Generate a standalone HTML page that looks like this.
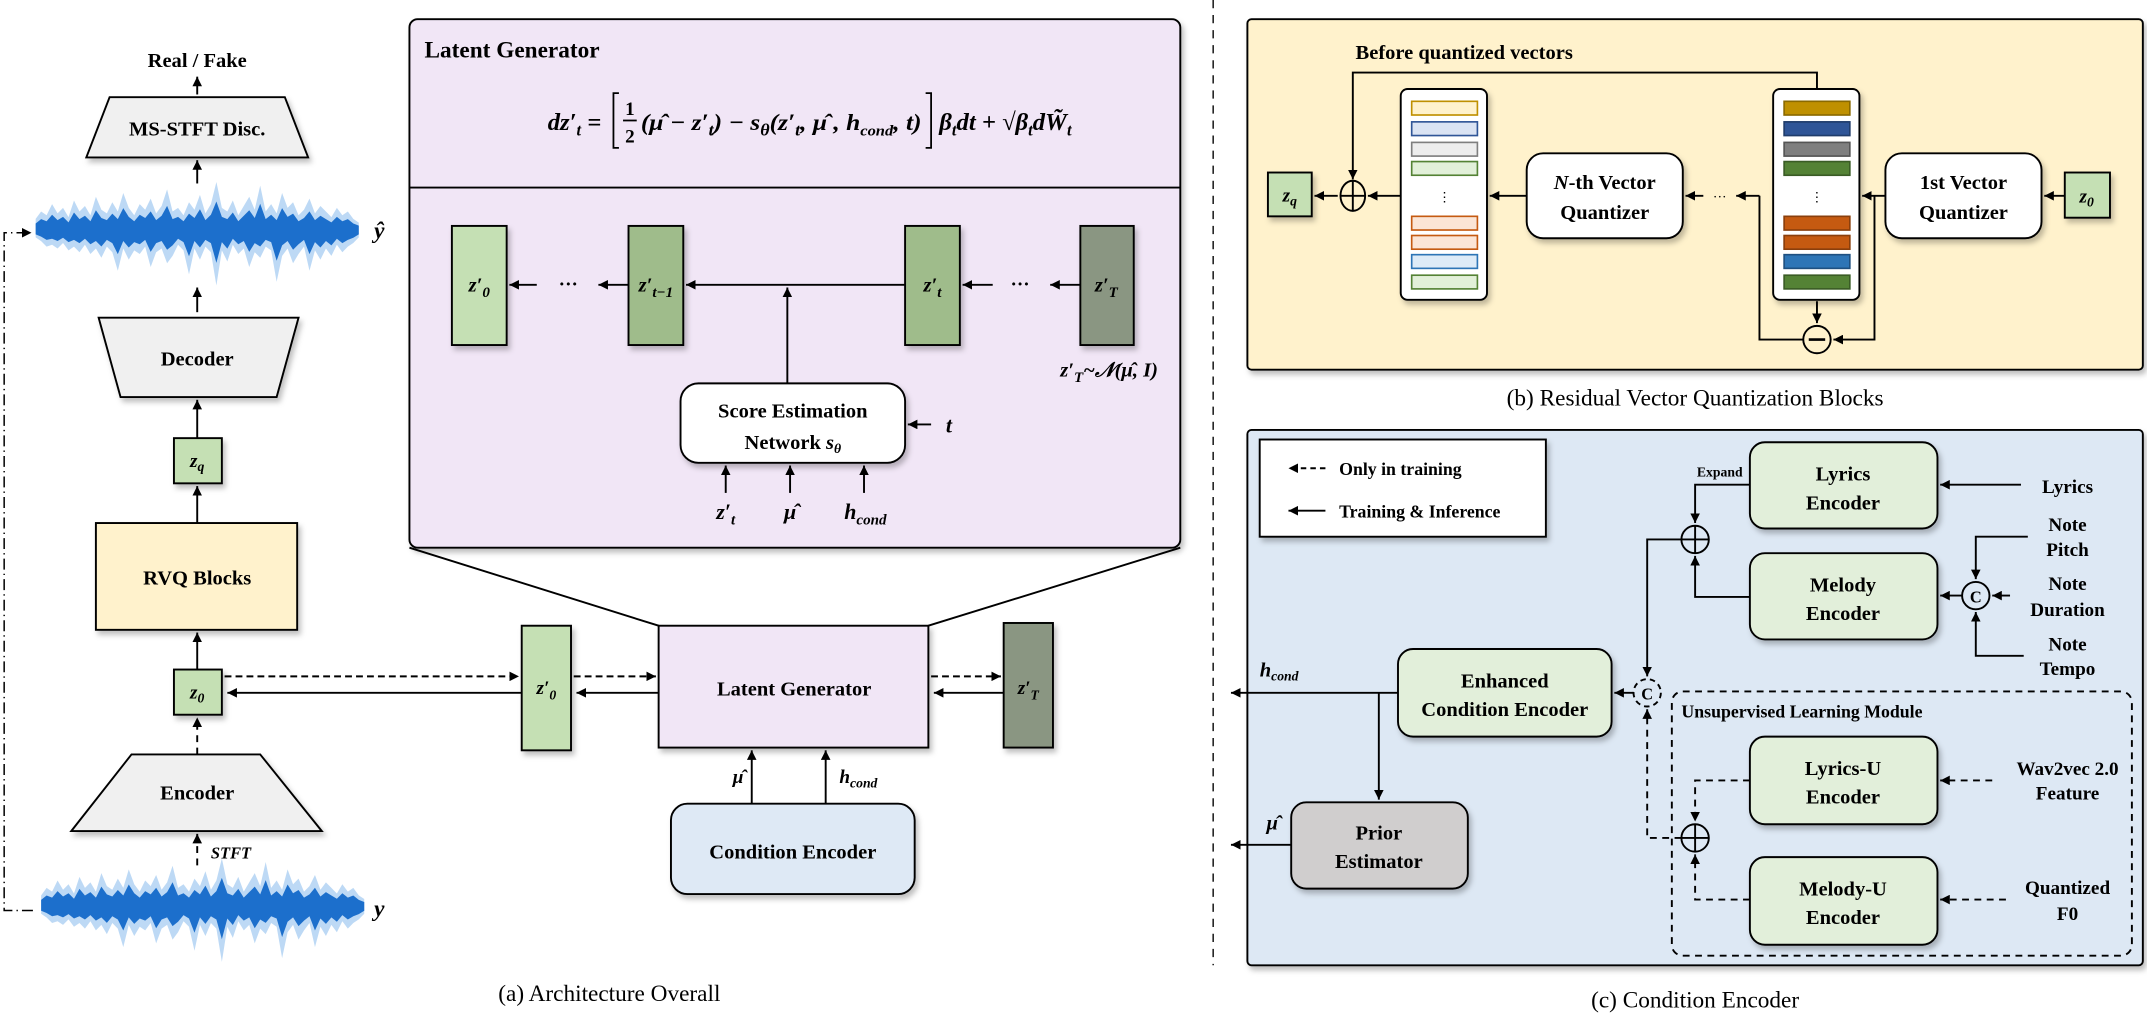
<!DOCTYPE html>
<html><head><meta charset="utf-8"><style>
html,body{margin:0;padding:0;background:#fff}
svg{display:block}
text{font-family:"Liberation Serif",serif;fill:#000}
.b{font-weight:bold}
.bi{font-weight:bold;font-style:italic}
</style></head><body>
<svg width="2147" height="1031" viewBox="0 0 1568 753" xmlns="http://www.w3.org/2000/svg">
<defs>
<marker id="a" viewBox="0 0 10 10" refX="10" refY="5" markerWidth="7" markerHeight="7" markerUnits="userSpaceOnUse" orient="auto"><path d="M0,0 L10,5 L0,10 z" fill="#000"/></marker>
<filter id="sh" x="-20%" y="-20%" width="150%" height="150%"><feDropShadow dx="2" dy="3" stdDeviation="2" flood-color="#000" flood-opacity="0.25"/></filter>
<symbol id="wave" viewBox="-2 -32 240 64" width="240" height="64" overflow="visible">
<g transform="scale(1,1.35)" opacity="0.4"><polygon fill="#5aa0e6" points="0,-6 4,-10 8,-8 12,-14 16,-9 20,-12 24,-7 28,-16 32,-10 36,-13 40,-8 44,-18 48,-11 52,-9 56,-15 60,-10 64,-20 68,-12 72,-8 76,-14 80,-11 84,-17 88,-9 92,-13 96,-22 100,-10 104,-12 108,-8 112,-15 116,-11 120,-19 124,-9 128,-14 132,-26 136,-12 140,-10 144,-16 148,-8 152,-13 156,-18 160,-11 164,-24 168,-10 172,-14 176,-9 180,-20 184,-12 188,-15 192,-8 196,-11 200,-17 204,-9 208,-13 212,-10 216,-7 220,-12 224,-8 228,-10 232,-6 236,-4 236,4 232,7 228,9 224,12 220,8 216,14 212,10 208,16 204,11 200,22 196,9 192,13 188,18 184,10 180,14 176,28 172,11 168,9 164,15 160,12 156,20 152,10 148,13 144,8 140,17 136,11 132,30 128,12 124,9 120,16 116,10 112,24 108,11 104,8 100,14 96,18 92,10 88,12 84,20 80,9 76,13 72,11 68,16 64,10 60,22 56,12 52,9 48,15 44,10 40,13 36,8 32,12 28,9 24,11 20,7 16,10 12,8 8,9 4,6 0,4"/></g>
<g transform="scale(1,0.8)"><polygon fill="#1c6fcc" points="0,-6 4,-10 8,-8 12,-14 16,-9 20,-12 24,-7 28,-16 32,-10 36,-13 40,-8 44,-18 48,-11 52,-9 56,-15 60,-10 64,-20 68,-12 72,-8 76,-14 80,-11 84,-17 88,-9 92,-13 96,-22 100,-10 104,-12 108,-8 112,-15 116,-11 120,-19 124,-9 128,-14 132,-26 136,-12 140,-10 144,-16 148,-8 152,-13 156,-18 160,-11 164,-24 168,-10 172,-14 176,-9 180,-20 184,-12 188,-15 192,-8 196,-11 200,-17 204,-9 208,-13 212,-10 216,-7 220,-12 224,-8 228,-10 232,-6 236,-4 236,4 232,7 228,9 224,12 220,8 216,14 212,10 208,16 204,11 200,22 196,9 192,13 188,18 184,10 180,14 176,28 172,11 168,9 164,15 160,12 156,20 152,10 148,13 144,8 140,17 136,11 132,30 128,12 124,9 120,16 116,10 112,24 108,11 104,8 100,14 96,18 92,10 88,12 84,20 80,9 76,13 72,11 68,16 64,10 60,22 56,12 52,9 48,15 44,10 40,13 36,8 32,12 28,9 24,11 20,7 16,10 12,8 8,9 4,6 0,4"/></g>
</symbol>
</defs>

<g stroke="#000" stroke-width="1.4" fill="none">
<line x1="886" y1="0" x2="886" y2="705" stroke-dasharray="6,5" stroke-width="1"/>
<line x1="144" y1="69" x2="144" y2="56" marker-end="url(#a)"/>
<polygon points="80,71 208,71 225,115 63,115" fill="#f0f0f0" filter="url(#sh)"/>
<line x1="144" y1="134" x2="144" y2="117" marker-end="url(#a)"/>
<line x1="144" y1="228" x2="144" y2="210" marker-end="url(#a)"/>
<polygon points="72,232 218,232 202,290 88,290" fill="#f0f0f0" filter="url(#sh)"/>
<line x1="144" y1="320" x2="144" y2="292" marker-end="url(#a)"/>
<rect x="127" y="320" width="35" height="33" fill="#c5e0b4" filter="url(#sh)"/>
<line x1="144" y1="382" x2="144" y2="355" marker-end="url(#a)"/>
<rect x="70" y="382" width="147" height="78" fill="#fff2cc" filter="url(#sh)"/>
<line x1="144" y1="489" x2="144" y2="462" marker-end="url(#a)"/>
<rect x="127" y="489" width="35" height="33" fill="#c5e0b4" filter="url(#sh)"/>
<line x1="144" y1="551" x2="144" y2="524" stroke-dasharray="5,4" marker-end="url(#a)"/>
<polygon points="96,551 190,551 235,607 52,607" fill="#f0f0f0" filter="url(#sh)"/>
<line x1="144" y1="632" x2="144" y2="609" stroke-dasharray="5,4" marker-end="url(#a)"/>
<polyline points="24,665 3,665 3,170 23,170" stroke-dasharray="8,3,1,3" stroke-width="1.1" marker-end="url(#a)"/>
</g>
<use href="#wave" x="24" y="136"/>
<use href="#wave" x="28" y="630"/>

<text x="144" y="49" text-anchor="middle" class="b" font-size="15">Real / Fake</text>
<text x="144" y="99" text-anchor="middle" class="b" font-size="15">MS-STFT Disc.</text>
<text x="277" y="174" text-anchor="middle" class="bi" font-size="17">ŷ</text>
<text x="144" y="267" text-anchor="middle" class="b" font-size="15">Decoder</text>
<text x="144" y="341" text-anchor="middle" class="bi" font-size="14">z<tspan font-size="10" dy="3">q</tspan></text>
<text x="144" y="427" text-anchor="middle" class="b" font-size="15">RVQ Blocks</text>
<text x="144" y="510" text-anchor="middle" class="bi" font-size="14">z<tspan font-size="10" dy="3">0</tspan></text>
<text x="144" y="584" text-anchor="middle" class="b" font-size="15">Encoder</text>
<text x="154" y="627" class="bi" font-size="12">STFT</text>
<text x="277" y="669" text-anchor="middle" class="bi" font-size="17">y</text>
<text x="445" y="731" text-anchor="middle" font-size="17">(a) Architecture Overall</text>

<g stroke="#000" stroke-width="1.4" fill="none">
<rect x="299" y="14" width="563" height="386" rx="6" fill="#f1e6f6" filter="url(#sh)"/>
<line x1="299" y1="137" x2="862" y2="137"/>
<rect x="330" y="165" width="40" height="87" fill="#c5e0b4" filter="url(#sh)"/>
<rect x="459" y="165" width="40" height="87" fill="#9fbc8b" filter="url(#sh)"/>
<rect x="661" y="165" width="40" height="87" fill="#9fbc8b" filter="url(#sh)"/>
<rect x="789" y="165" width="39" height="87" fill="#8a9682" filter="url(#sh)"/>
<line x1="392" y1="208" x2="372" y2="208" marker-end="url(#a)"/>
<line x1="459" y1="208" x2="437" y2="208" marker-end="url(#a)"/>
<line x1="661" y1="208" x2="501" y2="208" marker-end="url(#a)"/>
<line x1="575" y1="280" x2="575" y2="210" marker-end="url(#a)"/>
<line x1="725" y1="208" x2="703" y2="208" marker-end="url(#a)"/>
<line x1="789" y1="208" x2="767" y2="208" marker-end="url(#a)"/>
<rect x="497" y="280" width="164" height="58" rx="13" fill="#fff" filter="url(#sh)"/>
<line x1="680" y1="310" x2="663" y2="310" marker-end="url(#a)"/>
<line x1="530" y1="360" x2="530" y2="340" marker-end="url(#a)"/>
<line x1="577" y1="360" x2="577" y2="340" marker-end="url(#a)"/>
<line x1="631" y1="360" x2="631" y2="340" marker-end="url(#a)"/>
<line x1="299" y1="400" x2="481" y2="457"/>
<line x1="862" y1="400" x2="678" y2="457"/>
<polyline points="452,68 448,68 448,108 452,108" stroke-width="1.3"/>
<polyline points="676,68 680,68 680,108 676,108" stroke-width="1.3"/>
<line x1="455" y1="88" x2="465" y2="88" stroke-width="1.3"/>
</g>
<text x="400" y="95" class="bi" font-size="18">dz′<tspan font-size="12" dy="4">t</tspan><tspan dy="-4"> =</tspan></text>
<text x="460" y="84" text-anchor="middle" class="b" font-size="14">1</text>
<text x="460" y="104" text-anchor="middle" class="b" font-size="14">2</text>
<text x="468" y="95" class="bi" font-size="17" textLength="205" lengthAdjust="spacingAndGlyphs">(μ̂ − z′<tspan font-size="12" dy="4">t</tspan><tspan dy="-4">) − s</tspan><tspan font-size="12" dy="4">θ</tspan><tspan dy="-4">(z′</tspan><tspan font-size="12" dy="4">t</tspan><tspan dy="-4">, μ̂ , h</tspan><tspan font-size="11" dy="4">cond</tspan><tspan dy="-4">, t)</tspan></text>
<text x="686" y="95" class="bi" font-size="18">β<tspan font-size="12" dy="4">t</tspan><tspan dy="-4">dt + √β</tspan><tspan font-size="12" dy="4">t</tspan><tspan dy="-4">dW̃</tspan><tspan font-size="12" dy="4">t</tspan></text>
<text x="310" y="42" class="b" font-size="17">Latent Generator</text>
<text x="350" y="213" text-anchor="middle" class="bi" font-size="15">z′<tspan font-size="11" dy="4">0</tspan></text>
<text x="415" y="212" text-anchor="middle" class="b" font-size="14">···</text>
<text x="479" y="213" text-anchor="middle" class="bi" font-size="15">z′<tspan font-size="11" dy="4">t−1</tspan></text>
<text x="681" y="213" text-anchor="middle" class="bi" font-size="15">z′<tspan font-size="11" dy="4">t</tspan></text>
<text x="745" y="212" text-anchor="middle" class="b" font-size="14">···</text>
<text x="808" y="213" text-anchor="middle" class="bi" font-size="15">z′<tspan font-size="11" dy="4">T</tspan></text>
<text x="810" y="275" text-anchor="middle" class="bi" font-size="15">z′<tspan font-size="11" dy="4">T</tspan><tspan dy="-4">~𝒩(μ̂, I)</tspan></text>
<text x="579" y="305" text-anchor="middle" class="b" font-size="15">Score Estimation</text>
<text x="579" y="328" text-anchor="middle" class="b" font-size="15">Network <tspan font-style="italic">s</tspan><tspan font-size="10" dy="3" font-style="italic">θ</tspan></text>
<text x="693" y="316" text-anchor="middle" class="bi" font-size="16">t</text>
<text x="530" y="379" text-anchor="middle" class="bi" font-size="16">z′<tspan font-size="11" dy="4">t</tspan></text>
<text x="577" y="379" text-anchor="middle" class="bi" font-size="16">μ̂</text>
<text x="632" y="379" text-anchor="middle" class="bi" font-size="16">h<tspan font-size="11" dy="4">cond</tspan></text>

<g stroke="#000" stroke-width="1.4" fill="none">
<rect x="381" y="457" width="36" height="91" fill="#c5e0b4" filter="url(#sh)"/>
<rect x="481" y="457" width="197" height="89" fill="#f1e6f6" filter="url(#sh)"/>
<rect x="733" y="455" width="36" height="91" fill="#8a9682" filter="url(#sh)"/>
<line x1="164" y1="494" x2="379" y2="494" stroke-dasharray="5,3" marker-end="url(#a)"/>
<line x1="381" y1="506" x2="166" y2="506" marker-end="url(#a)"/>
<line x1="419" y1="494" x2="479" y2="494" stroke-dasharray="5,3" marker-end="url(#a)"/>
<line x1="481" y1="506" x2="421" y2="506" marker-end="url(#a)"/>
<line x1="680" y1="494" x2="731" y2="494" stroke-dasharray="5,3" marker-end="url(#a)"/>
<line x1="733" y1="506" x2="682" y2="506" marker-end="url(#a)"/>
<rect x="490" y="587" width="178" height="66" rx="12" fill="#dee9f5" filter="url(#sh)"/>
<line x1="549" y1="587" x2="549" y2="548" marker-end="url(#a)"/>
<line x1="603" y1="587" x2="603" y2="548" marker-end="url(#a)"/>
</g>
<text x="399" y="507" text-anchor="middle" class="bi" font-size="14">z′<tspan font-size="10" dy="4">0</tspan></text>
<text x="580" y="508" text-anchor="middle" class="b" font-size="15">Latent Generator</text>
<text x="751" y="507" text-anchor="middle" class="bi" font-size="14">z′<tspan font-size="10" dy="4">T</tspan></text>
<text x="539" y="572" text-anchor="middle" class="bi" font-size="14">μ̂</text>
<text x="613" y="572" class="bi" font-size="14">h<tspan font-size="10" dy="3">cond</tspan></text>
<text x="579" y="627" text-anchor="middle" class="b" font-size="15">Condition Encoder</text>

<g stroke="#000" stroke-width="1.4" fill="none">
<rect x="911" y="14" width="654" height="256" rx="3" fill="#fff2cc" filter="url(#sh)"/>
<rect x="926" y="126" width="32" height="32" fill="#c5e0b4" filter="url(#sh)"/>
<rect x="1508" y="126" width="33" height="33" fill="#c5e0b4" filter="url(#sh)"/>
<rect x="1023" y="65" width="63" height="154" rx="5" fill="#fff" filter="url(#sh)"/>
<rect x="1295" y="65" width="63" height="154" rx="5" fill="#fff" filter="url(#sh)"/>
<rect x="1115" y="112" width="114" height="62" rx="12" fill="#fff" filter="url(#sh)"/>
<rect x="1377" y="112" width="114" height="62" rx="12" fill="#fff" filter="url(#sh)"/>
<line x1="1508" y1="143" x2="1493" y2="143" marker-end="url(#a)"/>
<line x1="1377" y1="143" x2="1360" y2="143" marker-end="url(#a)"/>
<line x1="1285" y1="143" x2="1268" y2="143" marker-end="url(#a)"/>
<line x1="1244" y1="143" x2="1231" y2="143" marker-end="url(#a)"/>
<line x1="1115" y1="143" x2="1088" y2="143" marker-end="url(#a)"/>
<line x1="1023" y1="143" x2="999" y2="143" marker-end="url(#a)"/>
<line x1="977" y1="143" x2="960" y2="143" marker-end="url(#a)"/>
<polyline points="1327,65 1327,53 988,53 988,131" marker-end="url(#a)"/>
<ellipse cx="988" cy="143" rx="9" ry="11" fill="none"/>
<line x1="979" y1="143" x2="997" y2="143"/><line x1="988" y1="132" x2="988" y2="154"/>
<polyline points="1285,143 1285,248 1317,248"/>
<polyline points="1369,143 1369,248 1339,248" marker-end="url(#a)"/>
<line x1="1327" y1="220" x2="1327" y2="236" marker-end="url(#a)"/>
<circle cx="1327" cy="248" r="10" fill="none"/>
<line x1="1321" y1="248" x2="1333" y2="248" stroke-width="2"/>
</g>
<g stroke-width="1.2">
<rect x="1031" y="74" width="48" height="10" fill="#fff2cc" stroke="#bf9000"/>
<rect x="1031" y="89" width="48" height="10" fill="#dae3f3" stroke="#2f5597"/>
<rect x="1031" y="104" width="48" height="10" fill="#ededed" stroke="#7f7f7f"/>
<rect x="1031" y="118" width="48" height="10" fill="#e2f0d9" stroke="#548235"/>
<rect x="1031" y="158" width="48" height="10" fill="#fbe5d6" stroke="#c55a11"/>
<rect x="1031" y="172" width="48" height="10" fill="#fbe5d6" stroke="#c55a11"/>
<rect x="1031" y="186" width="48" height="10" fill="#deebf7" stroke="#2e75b6"/>
<rect x="1031" y="201" width="48" height="10" fill="#e2f0d9" stroke="#548235"/>
<rect x="1303" y="74" width="48" height="10" fill="#bf9000" stroke="#8a6a00"/>
<rect x="1303" y="89" width="48" height="10" fill="#2f5597" stroke="#203d6b"/>
<rect x="1303" y="104" width="48" height="10" fill="#7f7f7f" stroke="#555"/>
<rect x="1303" y="118" width="48" height="10" fill="#548235" stroke="#3a5c25"/>
<rect x="1303" y="158" width="48" height="10" fill="#c55a11" stroke="#8a3f0c"/>
<rect x="1303" y="172" width="48" height="10" fill="#c55a11" stroke="#8a3f0c"/>
<rect x="1303" y="186" width="48" height="10" fill="#2e75b6" stroke="#1f5080"/>
<rect x="1303" y="201" width="48" height="10" fill="#548235" stroke="#3a5c25"/>
</g>
<text x="1055" y="147" text-anchor="middle" font-size="10">⋮</text>
<text x="1327" y="147" text-anchor="middle" font-size="10">⋮</text>
<text x="1256" y="147" text-anchor="middle" font-size="10">···</text>
<text x="990" y="43" class="b" font-size="15">Before quantized vectors</text>
<text x="942" y="147" text-anchor="middle" class="bi" font-size="14">z<tspan font-size="10" dy="3">q</tspan></text>
<text x="1524" y="148" text-anchor="middle" class="bi" font-size="14">z<tspan font-size="10" dy="3">0</tspan></text>
<text x="1172" y="138" text-anchor="middle" class="b" font-size="15"><tspan font-style="italic">N</tspan>-th Vector</text>
<text x="1172" y="160" text-anchor="middle" class="b" font-size="15">Quantizer</text>
<text x="1434" y="138" text-anchor="middle" class="b" font-size="15">1st Vector</text>
<text x="1434" y="160" text-anchor="middle" class="b" font-size="15">Quantizer</text>
<text x="1238" y="296" text-anchor="middle" font-size="17">(b) Residual Vector Quantization Blocks</text>

<g stroke="#000" stroke-width="1.4" fill="none">
<rect x="911" y="314" width="654" height="391" rx="3" fill="#dde8f4" filter="url(#sh)"/>
<rect x="920" y="321" width="209" height="71" fill="#fff" filter="url(#sh)"/>
<line x1="968" y1="342" x2="941" y2="342" stroke-dasharray="4,3" marker-end="url(#a)"/>
<line x1="968" y1="373" x2="941" y2="373" marker-end="url(#a)"/>
<rect x="1278" y="323" width="137" height="63" rx="11" fill="#e2efda" filter="url(#sh)"/>
<rect x="1278" y="404" width="137" height="63" rx="11" fill="#e2efda" filter="url(#sh)"/>
<rect x="1021" y="474" width="156" height="64" rx="11" fill="#e2efda" filter="url(#sh)"/>
<rect x="943" y="586" width="129" height="63" rx="11" fill="#d0cece" filter="url(#sh)"/>
<rect x="1221" y="505" width="336" height="193" rx="8" stroke-dasharray="5,4" fill="none"/>
<rect x="1278" y="538" width="137" height="64" rx="11" fill="#e2efda" filter="url(#sh)"/>
<rect x="1278" y="626" width="137" height="64" rx="11" fill="#e2efda" filter="url(#sh)"/>
<line x1="1476" y1="354" x2="1417" y2="354" marker-end="url(#a)"/>
<polyline points="1481,392 1443,392 1443,423" marker-end="url(#a)"/>
<polyline points="1478,479 1443,479 1443,447" marker-end="url(#a)"/>
<line x1="1468" y1="435" x2="1455" y2="435" marker-end="url(#a)"/>
<circle cx="1443" cy="435" r="10"/>
<line x1="1433" y1="435" x2="1417" y2="435" marker-end="url(#a)"/>
<polyline points="1278,354 1238,354 1238,382" marker-end="url(#a)"/>
<polyline points="1278,436 1238,436 1238,406" marker-end="url(#a)"/>
<circle cx="1238" cy="394" r="10"/>
<line x1="1228" y1="394" x2="1248" y2="394"/><line x1="1238" y1="384" x2="1238" y2="404"/>
<polyline points="1228,394 1203,394 1203,494" marker-end="url(#a)"/>
<circle cx="1203" cy="506" r="10" stroke-dasharray="4,3"/>
<line x1="1193" y1="506" x2="1179" y2="506" marker-end="url(#a)"/>
<line x1="1021" y1="506" x2="899" y2="506" marker-end="url(#a)"/>
<line x1="1007" y1="506" x2="1007" y2="584" marker-end="url(#a)"/>
<line x1="943" y1="617" x2="899" y2="617" marker-end="url(#a)"/>
<line x1="1455" y1="570" x2="1417" y2="570" stroke-dasharray="5,4" marker-end="url(#a)"/>
<line x1="1465" y1="657" x2="1417" y2="657" stroke-dasharray="5,4" marker-end="url(#a)"/>
<polyline points="1278,570 1238,570 1238,600" stroke-dasharray="5,4" marker-end="url(#a)"/>
<polyline points="1278,657 1238,657 1238,624" stroke-dasharray="5,4" marker-end="url(#a)"/>
<circle cx="1238" cy="612" r="10"/>
<line x1="1228" y1="612" x2="1248" y2="612"/><line x1="1238" y1="602" x2="1238" y2="622"/>
<polyline points="1228,612 1203,612 1203,518" stroke-dasharray="5,4" marker-end="url(#a)"/>
</g>
<text x="1443" y="440" text-anchor="middle" font-family="Liberation Sans" font-size="12" font-weight="bold">C</text>
<text x="1203" y="511" text-anchor="middle" font-family="Liberation Sans" font-size="12" font-weight="bold">C</text>
<text x="978" y="347" class="b" font-size="13">Only in training</text>
<text x="978" y="378" class="b" font-size="13">Training &amp; Inference</text>
<text x="1256" y="348" text-anchor="middle" class="b" font-size="10">Expand</text>
<text x="1346" y="351" text-anchor="middle" class="b" font-size="15">Lyrics</text>
<text x="1346" y="372" text-anchor="middle" class="b" font-size="15">Encoder</text>
<text x="1346" y="432" text-anchor="middle" class="b" font-size="15">Melody</text>
<text x="1346" y="453" text-anchor="middle" class="b" font-size="15">Encoder</text>
<text x="1510" y="360" text-anchor="middle" class="b" font-size="14">Lyrics</text>
<text x="1510" y="388" text-anchor="middle" class="b" font-size="14">Note</text>
<text x="1510" y="406" text-anchor="middle" class="b" font-size="14">Pitch</text>
<text x="1510" y="431" text-anchor="middle" class="b" font-size="14">Note</text>
<text x="1510" y="450" text-anchor="middle" class="b" font-size="14">Duration</text>
<text x="1510" y="475" text-anchor="middle" class="b" font-size="14">Note</text>
<text x="1510" y="493" text-anchor="middle" class="b" font-size="14">Tempo</text>
<text x="1099" y="502" text-anchor="middle" class="b" font-size="15">Enhanced</text>
<text x="1099" y="523" text-anchor="middle" class="b" font-size="15">Condition Encoder</text>
<text x="920" y="494" class="bi" font-size="15">h<tspan font-size="10" dy="3">cond</tspan></text>
<text x="925" y="606" class="bi" font-size="15">μ̂</text>
<text x="1007" y="613" text-anchor="middle" class="b" font-size="15">Prior</text>
<text x="1007" y="634" text-anchor="middle" class="b" font-size="15">Estimator</text>
<text x="1228" y="524" class="b" font-size="13">Unsupervised Learning Module</text>
<text x="1346" y="566" text-anchor="middle" class="b" font-size="15">Lyrics-U</text>
<text x="1346" y="587" text-anchor="middle" class="b" font-size="15">Encoder</text>
<text x="1346" y="654" text-anchor="middle" class="b" font-size="15">Melody-U</text>
<text x="1346" y="675" text-anchor="middle" class="b" font-size="15">Encoder</text>
<text x="1510" y="566" text-anchor="middle" class="b" font-size="14">Wav2vec 2.0</text>
<text x="1510" y="584" text-anchor="middle" class="b" font-size="14">Feature</text>
<text x="1510" y="653" text-anchor="middle" class="b" font-size="14">Quantized</text>
<text x="1510" y="672" text-anchor="middle" class="b" font-size="14">F0</text>
<text x="1238" y="736" text-anchor="middle" font-size="17">(c) Condition Encoder</text>
</svg>
</body></html>
